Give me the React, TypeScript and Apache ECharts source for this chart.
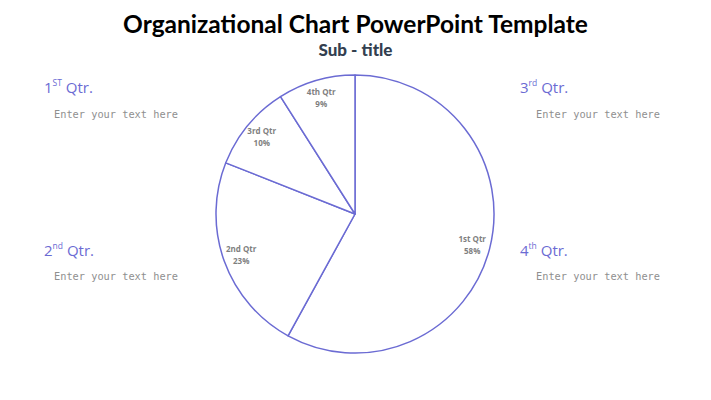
import React, { useEffect, useRef } from "react";
import * as echarts from "echarts";

const categories = ["1st Qtr", "2nd Qtr", "3rd Qtr", "4th Qtr"];
const values = [58, 23, 10, 9];
const mainTitle = "Organizational Chart PowerPoint Template";
const subTitle = "Sub - title";
const headingNums = ["1", "2", "3", "4"];
const headingSups = ["ST", "nd", "rd", "th"];
const bodyText = "Enter your text here";

const BLUE = "#6b6bd3";

export default function App() {
  const ref = useRef<HTMLDivElement>(null);
  useEffect(() => {
    document.body.style.margin = "0";
    const chart = echarts.init(ref.current!, null, { renderer: "svg" });
    const data = categories.map((c, i) => ({ name: c, value: values[i] }));
    const headPos = [
      [44, 78],
      [44, 241],
      [520, 78],
      [520, 241],
    ];
    const bodyPos = [
      [54, 109],
      [54, 271],
      [536, 109],
      [536, 271],
    ];
    const titles: any[] = [
      {
        text: mainTitle,
        left: "center",
        top: 11,
        padding: 0,
        textStyle: { fontFamily: "Lato", fontWeight: "bold", fontSize: 24.5, lineHeight: 25, color: "#000" },
      },
      {
        text: subTitle,
        left: "center",
        top: 40,
        padding: 0,
        textStyle: { fontFamily: "Lato", fontWeight: 900, fontSize: 17, lineHeight: 18, color: "#333f50" },
      },
    ];
    headingNums.forEach((n, i) => {
      titles.push({
        text: `{n|${n}}{s|${headingSups[i]}}{n| Qtr.}`,
        left: headPos[i][0],
        top: headPos[i][1],
        padding: 0,
        textStyle: {
          fontWeight: "normal",
          rich: {
            n: { fontFamily: "Open Sans", fontSize: 15, fontWeight: "normal", color: BLUE, lineHeight: 18 },
            s: { fontFamily: "Open Sans", fontSize: 8.5, fontWeight: "normal", color: BLUE, lineHeight: 10, verticalAlign: "top" },
          },
        },
      });
      titles.push({
        text: bodyText,
        left: bodyPos[i][0],
        top: bodyPos[i][1],
        padding: 0,
        textStyle: { fontFamily: "DejaVu Sans Mono", fontSize: 10.3, color: "#8f8f8f", fontWeight: "normal" },
      });
    });
    chart.setOption({
      animation: false,
      backgroundColor: "#ffffff",
      title: titles,
      series: [
        {
          type: "pie",
          center: [355, 214],
          radius: [0, 139],
          startAngle: 90,
          clockwise: true,
          silent: true,
          label: { show: false },
          labelLine: { show: false },
          itemStyle: { color: "#ffffff", borderColor: BLUE, borderWidth: 1.5 },
          emphasis: { disabled: true },
          data,
        },
        {
          type: "pie",
          center: [355, 214],
          radius: [97, 139],
          startAngle: 90,
          clockwise: true,
          silent: true,
          itemStyle: { color: "rgba(0,0,0,0)", borderWidth: 0 },
          labelLine: { show: false },
          label: {
            show: true,
            position: "inside",
            formatter: "{b}\n{d}%",
            fontFamily: "Open Sans",
            fontSize: 8,
            fontWeight: "bold",
            lineHeight: 12,
            color: "#7f7f7f",
          },
          emphasis: { disabled: true },
          data,
        },
      ],
    });
    return () => chart.dispose();
  }, []);
  return <div ref={ref} style={{ width: 711, height: 400 }} />;
}
